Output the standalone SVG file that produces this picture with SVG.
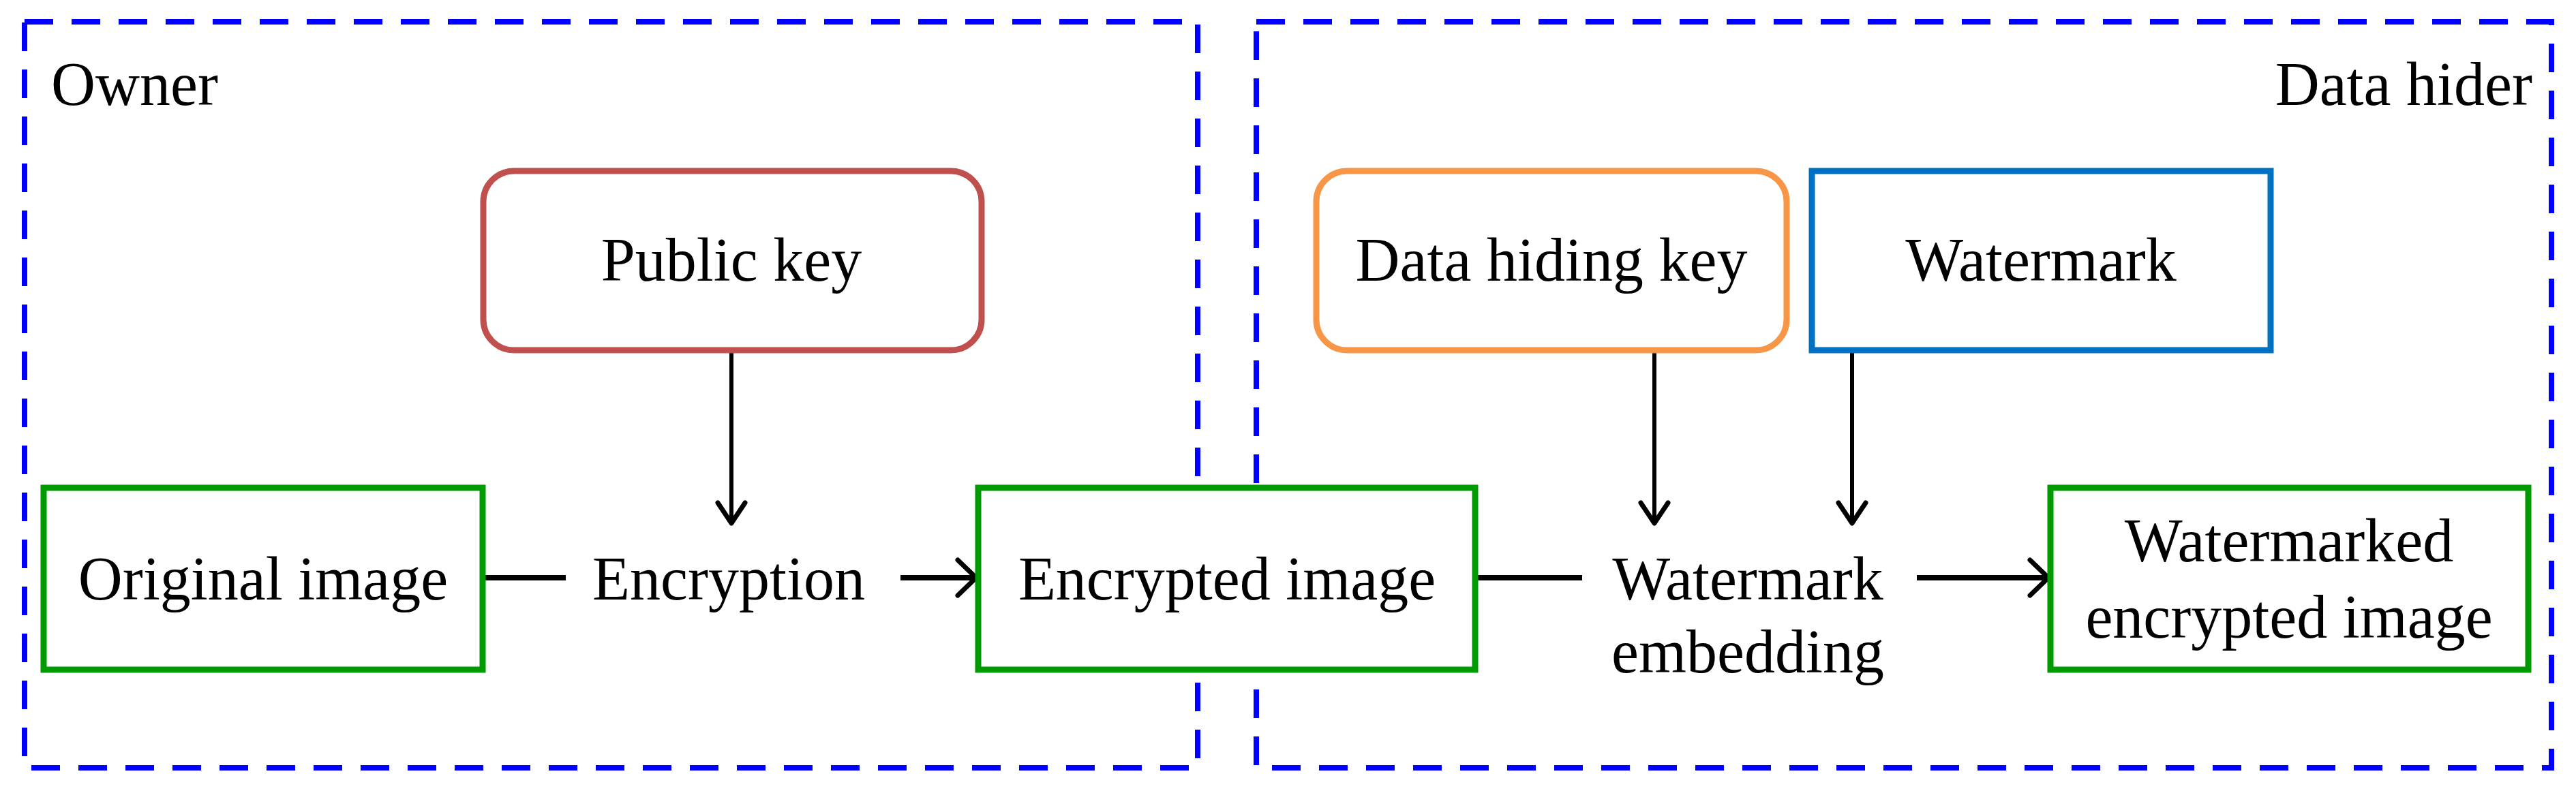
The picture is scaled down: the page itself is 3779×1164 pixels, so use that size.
<svg xmlns="http://www.w3.org/2000/svg" width="3779" height="1164" viewBox="0 0 3779 1164">
<style>
text{font-family:"Liberation Serif","Times New Roman",serif;font-size:90px;fill:#000}
.m{text-anchor:middle}
.grp{fill:none;stroke:#0000FF;stroke-width:8;stroke-dasharray:42 27}
.g{fill:#fff;stroke:#009900;stroke-width:9}
.c{fill:none;stroke:#000;stroke-width:8}
.v{fill:none;stroke:#000;stroke-width:6}
.ah{fill:none;stroke:#000;stroke-width:7;stroke-linecap:round;stroke-linejoin:round}
</style>
<rect width="3779" height="1164" fill="#fff"/>
<g id="owner"><rect class="grp" x="36" y="32" width="1721" height="1095"/><text x="75" y="154">Owner</text></g>
<g id="datahider"><rect class="grp" x="1843" y="32" width="1900" height="1095"/><text x="3715" y="154" text-anchor="end">Data hider</text></g>
<g id="connectors">
<path class="c" d="M708 848H830"/>
<path class="c" d="M1321 848H1430"/><path class="ah" d="M1405 822L1432 848L1405 874"/>
<path class="v" d="M1073 514V768"/><path class="ah" d="M1053 738L1073 768L1093 738"/>
<path class="c" d="M2164 848H2321"/>
<path class="c" d="M2812 848H3003"/><path class="ah" d="M2978 822L3005 848L2978 874"/>
<path class="v" d="M2427 514V768"/><path class="ah" d="M2407 738L2427 768L2447 738"/>
<path class="v" d="M2717 514V768"/><path class="ah" d="M2697 738L2717 768L2737 738"/>
</g>
<g id="publickey"><rect x="709" y="251" width="731" height="263" rx="45" fill="#fff" stroke="#C0504D" stroke-width="9"/><text class="m" x="1073" y="412">Public key</text></g>
<g id="original"><rect class="g" x="64" y="716" width="644" height="267"/><text class="m" x="386" y="880">Original image</text></g>
<g id="encryption"><text class="m" x="1069" y="880">Encryption</text></g>
<g id="encrypted"><rect class="g" x="1435" y="716" width="729" height="267"/><text class="m" x="1800" y="880">Encrypted image</text></g>
<g id="datahidingkey"><rect x="1931" y="251" width="690" height="263" rx="45" fill="#fff" stroke="#F79646" stroke-width="9"/><text class="m" x="2276" y="412">Data hiding key</text></g>
<g id="watermark"><rect x="2658" y="251" width="673" height="263" fill="#fff" stroke="#0070C0" stroke-width="9"/><text class="m" x="2994" y="412">Watermark</text></g>
<g id="embedding"><text class="m" x="2564" y="880">Watermark</text><text class="m" x="2564" y="987">embedding</text></g>
<g id="watermarked"><rect class="g" x="3008" y="716" width="701" height="267"/><text class="m" x="3358" y="824">Watermarked</text><text class="m" x="3358" y="936">encrypted image</text></g>
</svg>
